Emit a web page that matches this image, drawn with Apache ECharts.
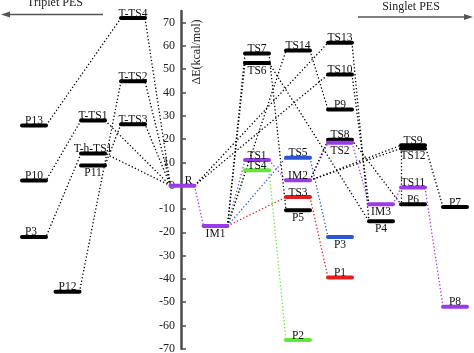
<!DOCTYPE html>
<html><head><meta charset="utf-8">
<script src="https://cdn.jsdelivr.net/npm/echarts@6/dist/echarts.min.js"></script>
<style>html,body{margin:0;padding:0;background:#fff}#c{width:474px;height:353px}</style>
</head><body><div id="c"></div>
<script>
// ---------------- DATA ----------------
const levelNames = ['P13','P10','P3t','P12','T-TS1','T-h-TS1','P11','T-TS4','T-TS2','T-TS3',
  'R','IM1','TS7','TS6','TS1','TS4','TS14','TS5','IM2','TS3','P5','P2',
  'TS13','TS10','P9','TS8','TS2','P3s','P1','IM3','P4','TS9','TS12','TS11','P6','P7','P8'];
const levelLabels = ['P13','P10','P3','P12','T-TS1','T-h-TS1','P11','T-TS4','T-TS2','T-TS3',
  'R','IM1','TS7','TS6','TS1','TS4','TS14','TS5','IM2','TS3','P5','P2',
  'TS13','TS10','P9','TS8','TS2','P3','P1','IM3','P4','TS9','TS12','TS11','P6','P7','P8'];
const levelEnergies = [25.8,2.2,-22,-45.6,28,13.8,8.7,72,44.8,26.4,
  0,-17.3,56.7,52.7,11,6.6,58,12,2.3,-4.9,-10.5,-66.3,
  61.4,47.7,32.7,19.7,18.4,-22,-39.4,-8,-15.3,17.4,16,-0.8,-8,-9.2,-52];
const levelGroup = ['t','t','t','t','t','t','t','t','t','t',
  'purple','purple','k','k','purple','green','k','blue','purple','red','k','green',
  'k','k','k','k','purple','blue','red','purple','k','k','k','purple','k','k','purple'];

const pathFrom = ['R','T-TS4','R','T-TS2','R','T-TS3','R','T-TS1','R','T-h-TS1',
  'R','IM1','TS1','IM2','TS2','IM3','TS11',
  'IM1','TS4','IM1','TS5','IM1','TS3',
  'IM1','TS7','IM1','TS6','IM1','TS14','R','TS13','R','TS10','IM2','TS8','IM2','TS9','IM2','TS12'];
const pathTo = ['T-TS4','P13','T-TS2','P12','T-TS3','P11','T-TS1','P10','T-h-TS1','P3t',
  'IM1','TS1','IM2','TS2','IM3','TS11','P8',
  'TS4','P2','TS5','P3s','TS3','P1',
  'TS7','P5','TS6','P4','TS14','P9','TS13','P4','TS10','IM3','TS8','P6','TS9','P7','TS12','P6'];
const pathGroup = ['k','k','k','k','k','k','k','k','k','k',
  'purple','purple','purple','purple','purple','purple','purple',
  'green','green','blue','blue','red','red',
  'k','k','k','k','k','k','k','k','k','k','k','k','k','k','k','k'];

const yTickValues = [-70,-60,-50,-40,-30,-20,-10,0,10,20,30,40,50,60,70];

// ---------------- LAYOUT / STYLE ----------------
const AXIS_PX = 181;            // pixel x of energy axis
const HALF = 12;                // half width of a level (x units = px)
const columnPx = {A:34,B:67.5,C:93,D:133,R:182.5,IM1:215.5,F:257,G:298,H:340,I:381,J:413,K:455};
const columnOf = {'P13':'A','P10':'A','P3t':'A','P12':'B','T-TS1':'C','T-h-TS1':'C','P11':'C',
  'T-TS4':'D','T-TS2':'D','T-TS3':'D','R':'R','IM1':'IM1',
  'TS7':'F','TS6':'F','TS1':'F','TS4':'F',
  'TS14':'G','TS5':'G','IM2':'G','TS3':'G','P5':'G','P2':'G',
  'TS13':'H','TS10':'H','P9':'H','TS8':'H','TS2':'H','P3s':'H','P1':'H',
  'IM3':'I','P4':'I','TS9':'J','TS12':'J','TS11':'J','P6':'J','P7':'K','P8':'K'};
const labelBelow = new Set(['TS6','TS2','TS12','IM1','P11','P5','P3s','IM3','P4']);
const labelDx = {'R':6,'P3t':-3};
const colors = {t:'#000',k:'#000',purple:'#9a3ae8',green:'#5fe834',blue:'#2a56d6',red:'#e41e1e'};
const FONT = '12px "Liberation Serif", "Times New Roman", serif';
const LFONT = '11.5px "Liberation Serif", "Times New Roman", serif';

function colX(n){ return columnPx[columnOf[n]] - AXIS_PX; }
const idx = {}; levelNames.forEach((n,i)=>idx[n]=i);

const levelData = levelNames.map((n,i)=>[colX(n), levelEnergies[i], i]);

const lineData = pathFrom.map((f,k)=>{
  const t = pathTo[k];
  const xf = colX(f), xt = colX(t);
  let x1, x2;
  if (xt > xf + 1) { x1 = xf + HALF; x2 = xt - HALF; }
  else if (xt < xf - 1) { x1 = xf - HALF; x2 = xt + HALF; }
  else { x1 = xf - HALF; x2 = xt - HALF; }
  return {coords:[[x1, levelEnergies[idx[f]]],[x2, levelEnergies[idx[t]]]],
          lineStyle:{color: colors[pathGroup[k]]}};
});

const chart = echarts.init(document.getElementById('c'), null, {renderer:'canvas'});
chart.setOption({
  animation:false,
  grid:{left:AXIS_PX,right:0,top:11,bottom:4.3,containLabel:false,outerBoundsMode:'none'},
  xAxis:{type:'value',min:0,max:474-AXIS_PX,show:false},
  yAxis:{type:'value',min:-70,max:75,interval:10,
    axisLine:{show:true,onZero:false,lineStyle:{color:'#4d4d4d',width:2.5}},
    axisTick:{show:true,inside:true,length:5,customValues:yTickValues,lineStyle:{color:'#4d4d4d',width:1.5}},
    axisLabel:{customValues:yTickValues,margin:6,color:'#222',fontFamily:'"Liberation Serif", serif',fontSize:12},
    splitLine:{show:false}},
  graphic:[
    {type:'text',x:197,y:52,rotation:Math.PI/2,style:{text:'ΔE(kcal/mol)',font:FONT,fill:'#222',align:'center',verticalAlign:'middle'}},
    {type:'text',x:55,y:9,style:{text:'Triplet PES',font:FONT,fill:'#222',align:'center',verticalAlign:'bottom'}},
    {type:'line',shape:{x1:7,y1:14.5,x2:103,y2:14.5},style:{stroke:'#555',lineWidth:1.5}},
    {type:'polygon',shape:{points:[[1,14.5],[10,11.5],[10,17.5]]},style:{fill:'#555'}},
    {type:'text',x:411,y:13,style:{text:'Singlet PES',font:FONT,fill:'#222',align:'center',verticalAlign:'bottom'}},
    {type:'line',shape:{x1:358,y1:17,x2:466,y2:17},style:{stroke:'#555',lineWidth:1.5}},
    {type:'polygon',shape:{points:[[473,17],[464,14],[464,20]]},style:{fill:'#555'}}
  ],
  series:[
    {type:'lines',coordinateSystem:'cartesian2d',polyline:false,silent:true,z:1,clip:false,
     lineStyle:{width:1.3,type:[1.3,2.2],opacity:1},data:lineData},
    {type:'custom',z:3,clip:false,silent:true,data:levelData,
     renderItem:function(params, api){
       const i = api.value(2);
       const c = api.coord([api.value(0), api.value(1)]);
       const hw = api.size([HALF,0])[0];
       const name = levelNames[i];
       const col = colors[levelGroup[i]];
       const below = labelBelow.has(name);
       const dx = labelDx[name] || 0;
       return {type:'group',children:[
         {type:'line',shape:{x1:c[0]-hw,y1:c[1],x2:c[0]+hw,y2:c[1]},style:{stroke:col,lineWidth:4,lineCap:'round'}},
         {type:'text',x:c[0]+dx,y:below ? c[1]+2 : c[1]+1.5,
          style:{text:levelLabels[i],font:LFONT,fill:'#111',align:'center',verticalAlign: below ? 'top':'bottom'}}
       ]};
     }}
  ]
});
</script></body></html>
